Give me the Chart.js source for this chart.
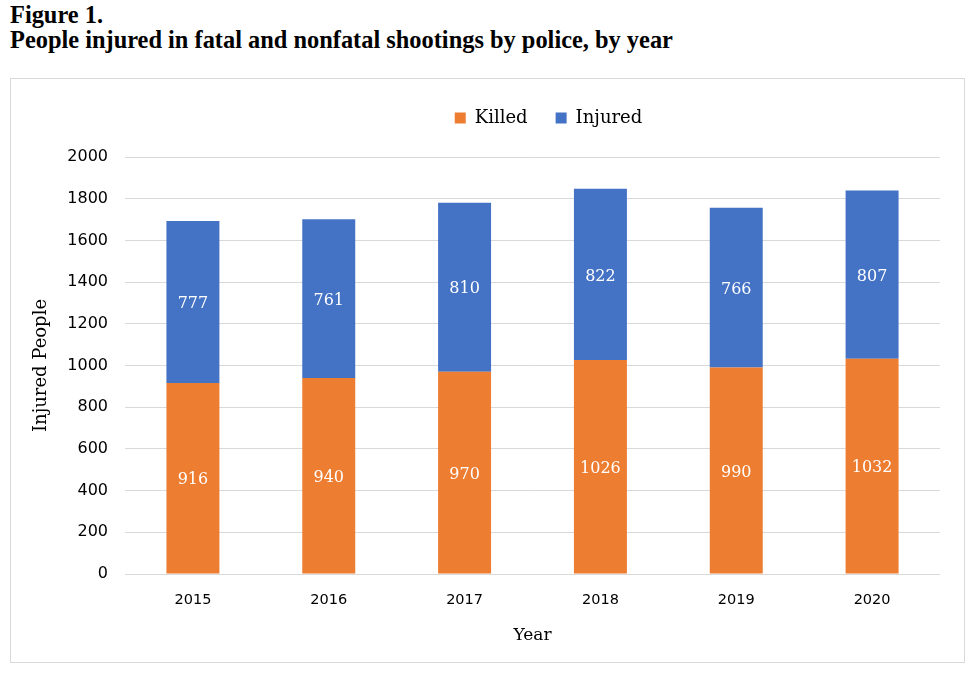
<!DOCTYPE html>
<html lang="en">
<head>
    <meta charset="UTF-8">
    <title>Figure 1</title>
    <style>
        body { margin: 0; background: #fff; width: 975px; height: 674px; position: relative; overflow: hidden; }
        .fig-title { position: absolute; left: 10px; font-family: "Liberation Serif", serif; font-weight: bold; font-size: 24.4px; line-height: 24px; color: #000; white-space: nowrap; }
        #line1 { top: 3px; }
        #line2 { top: 28px; }
        .chart-box { position: absolute; left: 10px; top: 78px; width: 955px; height: 585px; border: 1px solid #d9d9d9; box-sizing: border-box; }
    </style>
</head>
<body>
    <div class="fig-title" id="line1">Figure 1.</div>
    <div class="fig-title" id="line2">People injured in fatal and nonfatal shootings by police, by year</div>
    <div class="chart-box">
        <canvas id="shootingsChart" width="953" height="583"></canvas>
    </div>

    <script src="https://cdn.jsdelivr.net/npm/chart.js"></script>
    <script>
        // Data
        const years = ["2015", "2016", "2017", "2018", "2019", "2020"];
        const killed = [916, 940, 970, 1026, 990, 1032];
        const injured = [777, 761, 810, 822, 766, 807];
        const yTicks = [0, 200, 400, 600, 800, 1000, 1200, 1400, 1600, 1800, 2000];

        const serif = "'DejaVu Serif', serif";
        const sans = "'DejaVu Sans', sans-serif";

        // Legend: fixed height, and nudged right like in the original
        const legendSpacer = {
            id: 'legendSpacer',
            beforeInit(chart) {
                const origFit = chart.legend.fit;
                chart.legend.fit = function () {
                    origFit.bind(chart.legend)();
                    this.height = 76;
                };
            },
            afterLayout(chart) {
                chart.legend.left += 73;
                chart.legend.right += 73;
            }
        };

        // White value labels in the middle of each segment
        const barLabels = {
            id: 'barLabels',
            afterDatasetsDraw(chart) {
                const ctx = chart.ctx;
                ctx.save();
                ctx.fillStyle = '#ffffff';
                ctx.font = "16px " + serif;
                ctx.textAlign = 'center';
                ctx.textBaseline = 'middle';
                chart.data.datasets.forEach((ds, i) => {
                    chart.getDatasetMeta(i).data.forEach((bar, j) => {
                        const y = (bar.y + bar.base) / 2 + 2;
                        ctx.fillText(String(ds.data[j]), bar.x, y);
                    });
                });
                ctx.restore();
            }
        };

        new Chart(document.getElementById('shootingsChart').getContext('2d'), {
            type: 'bar',
            data: {
                labels: years,
                datasets: [
                    { label: 'Killed', data: killed, backgroundColor: '#ED7D31', barPercentage: 0.39, categoryPercentage: 1 },
                    { label: 'Injured', data: injured, backgroundColor: '#4472C4', barPercentage: 0.39, categoryPercentage: 1 }
                ]
            },
            options: {
                responsive: false,
                animation: false,
                layout: { padding: { top: 2, right: 24, bottom: 0, left: 0 } },
                plugins: {
                    legend: {
                        position: 'top',
                        labels: {
                            boxWidth: 11,
                            boxHeight: 11,
                            padding: 28,
                            color: '#000',
                            font: { family: serif, size: 18 }
                        }
                    },
                    tooltip: { enabled: false }
                },
                scales: {
                    x: {
                        stacked: true,
                        grid: { display: false, drawTicks: false },
                        border: { display: false },
                        ticks: { color: '#000', padding: 18, font: { family: sans, size: 14.5 } },
                        title: { display: true, text: 'Year', color: '#000', padding: { top: 0, bottom: 16 }, font: { family: serif, size: 17 } },
                        afterFit(scale) { scale.height = 88; }
                    },
                    y: {
                        stacked: true,
                        min: 0,
                        max: 2000,
                        afterBuildTicks(scale) { scale.ticks = yTicks.map(v => ({ value: v })); },
                        grid: { color: '#d9d9d9', drawTicks: false },
                        border: { display: false },
                        ticks: { color: '#000', padding: 17, font: { family: sans, size: 16 }, callback: v => String(v) },
                        title: { display: true, text: 'Injured People', color: '#000', padding: { top: 20, bottom: 0 }, font: { family: serif, size: 18 } },
                        afterFit(scale) { scale.width = 114; }
                    }
                }
            },
            plugins: [legendSpacer, barLabels]
        });
    </script>
</body>
</html>
